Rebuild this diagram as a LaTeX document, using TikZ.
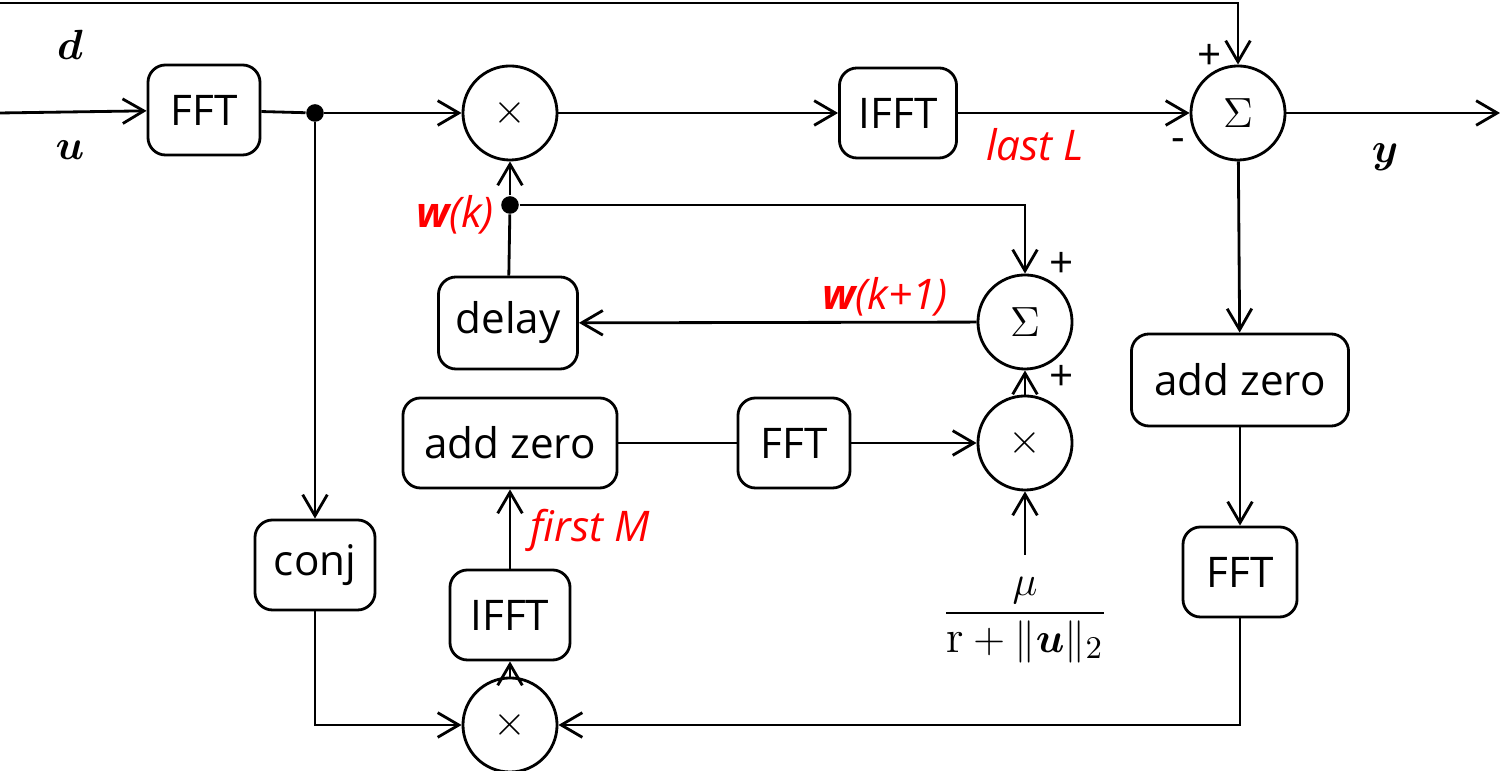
\documentclass[tikz,border=0pt]{standalone}
\usepackage{amsmath,bm}
\usepackage{fontspec}
\setsansfont{Open Sans}
\usetikzlibrary{arrows.meta}
\begin{document}
\begin{tikzpicture}[x=0.01cm,y=-0.01cm,
  every node/.style={font=\sffamily\fontsize{12}{14}\selectfont},
  box/.style={draw,thick,rounded corners=5pt,minimum height=0.9cm,inner sep=0pt},
  op/.style={draw,thick,circle,minimum size=0.94cm,inner sep=0pt},
  lab/.style={text=red,font=\sffamily\itshape\fontsize{12}{14}\selectfont},
  ar/.style={thick,-{Straight Barb[length=6pt,width=7pt]}},
  ln/.style={thick},
  dot/.style={circle,fill,inner sep=0pt,minimum size=5pt}]
\useasboundingbox (0,0) rectangle (1500,771);
\node[box,minimum width=1.12cm] (fft1) at (204,110) {FFT};
\node[op] (m1) at (510,113) {$\times$};
\node[box,minimum width=1.17cm] (ifft1) at (898,113) {IFFT};
\node[op] (s1) at (1238,113) {$\Sigma$};
\node[dot] (j1) at (315,113) {};
\node[dot] (j2) at (510,205) {};
\node[op] (s2) at (1025,322) {$\Sigma$};
\node[box,minimum width=1.39cm,minimum height=0.92cm] (delay) at (508,323) {delay};
\node[box,minimum width=2.14cm] (az1) at (510,443) {add zero};
\node[box,minimum width=1.12cm] (fft2) at (794,443) {FFT};
\node[op] (m2) at (1025,443) {$\times$};
\node[box,minimum width=1.2cm] (conj) at (315,565) {conj};
\node[box,minimum width=1.2cm] (ifft2) at (510,615) {IFFT};
\node[op] (m3) at (510,725) {$\times$};
\node[box,minimum width=2.17cm,minimum height=0.92cm] (az2) at (1240,380) {add zero};
\node[box,minimum width=1.14cm] (fft3) at (1240,572) {FFT};
\node (mu) at (1025,620) {\fontsize{13}{15}\selectfont$\dfrac{\mu}{\mathrm{r}+\lVert\bm{u}\rVert_2}$};
\coordinate (in) at (0,113);
\coordinate (out) at (1500,113);
\coordinate (dtop) at (0,3);
\coordinate (mub) at (1025,555);
% labels
\node at (70,45) {$\bm{d}$};
\node at (70,150) {$\bm{u}$};
\node at (1385,157) {$\bm{y}$};
\node at (1210,57) {+};
\node at (1178,145) {-};
\node at (1062,265) {+};
\node at (1062,378) {+};
\node[lab] at (1035,145) {last L};
\node[lab] at (455,215) {\textbf{\textit{w}}(k)};
\node[lab] at (885,297) {\textbf{\textit{w}}(k+1)};
\node[lab] at (590,530) {first M};
% connectors
\draw[ar] (in) -- (fft1);
\draw[ln] (fft1) -- (j1);
\draw[ar] (j1) -- (m1);
\draw[ar] (m1) -- (ifft1);
\draw[ar] (ifft1) -- (s1);
\draw[ar] (s1) -- (out);
\draw[ar] (dtop) -| (s1);
\draw[ar] (j1) -- (conj);
\draw[ar] (j2) -- (m1);
\draw[ln] (delay) -- (j2);
\draw[ar] (j2) -| (s2);
\draw[ar] (s2) -- (delay);
\draw[ln] (az1) -- (fft2);
\draw[ar] (fft2) -- (m2);
\draw[ar] (m2) -- (s2);
\draw[ar] (mub) -- (m2);
\draw[ar] (ifft2) -- (az1);
\draw[ar] (m3) -- (ifft2);
\draw[ar] (conj) |- (m3);
\draw[ar] (fft3) |- (m3);
\draw[ar] (s1) -- (az2);
\draw[ar] (az2) -- (fft3);
\end{tikzpicture}
\end{document}
